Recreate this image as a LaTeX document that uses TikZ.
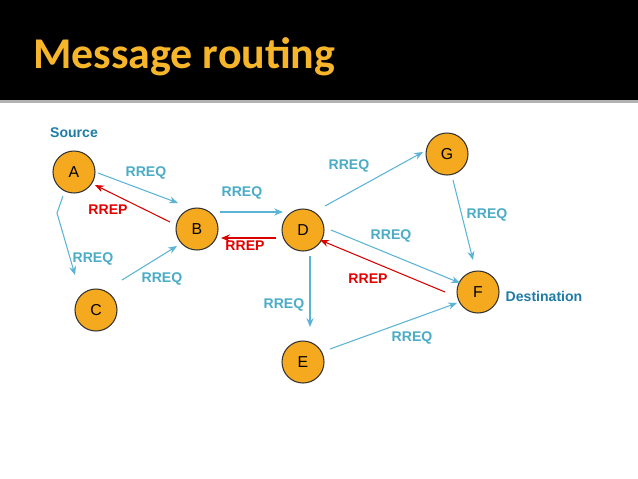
\documentclass[tikz,border=0pt]{standalone}
\usepackage{fontspec}
\setmainfont{Liberation Sans}
\newfontfamily\titlefont{Carlito}
\usetikzlibrary{arrows.meta}
\definecolor{nodeor}{HTML}{F5A91E}
\definecolor{edgeb}{HTML}{5BB4D6}
\definecolor{lblb}{HTML}{4BACC6}
\definecolor{srcb}{HTML}{1E7CA6}
\definecolor{titley}{HTML}{F7B52A}
\tikzset{
  nd/.style={circle,draw=black!80,line width=0.6pt,fill=nodeor,minimum size=42*0.02cm,inner sep=0pt,font=\fontsize{9}{10}\selectfont},
  eb/.style={draw=edgeb,line width=0.6pt,-{Stealth[length=5pt,width=4pt]}},
  er/.style={draw=red!85!black,line width=0.6pt,-{Stealth[length=5pt,width=4pt]}},
  lq/.style={text=lblb,font=\bfseries\fontsize{8}{9}\selectfont,inner sep=0pt},
  lp/.style={text=red!90!black,font=\bfseries\fontsize{8}{9}\selectfont,inner sep=0pt}
}
\begin{document}
\begin{tikzpicture}[x=0.02cm,y=-0.02cm]
\useasboundingbox (0,0) rectangle (638,478);
\fill[white] (0,0) rectangle (638,478);
\fill[black] (0,0) rectangle (638,100);
\fill[gray!60] (0,100) rectangle (638,103);
\node[anchor=west,text=titley,font=\titlefont\bfseries\fontsize{25}{28}\selectfont,inner sep=0pt] (title) at (33,57) {Message routing};
\node[nd] (A) at (74,172) {A};
\node[nd] (B) at (197,229) {B};
\node[nd] (C) at (96,310) {C};
\node[nd] (D) at (303,230) {D};
\node[nd] (E) at (303,362) {E};
\node[nd] (F) at (478,292) {F};
\node[nd] (G) at (447,154) {G};
\coordinate (a1) at (98,173); \coordinate (b1) at (178,203);
\draw[eb] (a1) -- (b1);
\coordinate (a2) at (63,196); \coordinate (a3) at (57,213); \coordinate (c1) at (75,275);
\draw[eb] (a2) -- (a3) -- (c1);
\coordinate (c2) at (122,280); \coordinate (b2) at (177,246);
\draw[eb] (c2) -- (b2);
\coordinate (b3) at (220,212); \coordinate (d1) at (283,212);
\draw[eb] (b3) -- (d1);
\coordinate (d2) at (325,206); \coordinate (g1) at (423,152);
\draw[eb] (d2) -- (g1);
\coordinate (g2) at (453,180); \coordinate (f1) at (473,260);
\draw[eb] (g2) -- (f1);
\coordinate (d3) at (331,230); \coordinate (f2) at (460,283);
\draw[eb] (d3) -- (f2);
\coordinate (d4) at (310,256); \coordinate (e1) at (310,327);
\draw[eb] (d4) -- (e1);
\coordinate (e2) at (330,349); \coordinate (f3) at (457,303);
\draw[eb] (e2) -- (f3);
\coordinate (b4) at (170,222); \coordinate (a4) at (95,185);
\draw[er] (b4) -- (a4);
\coordinate (d5) at (276,238); \coordinate (b5) at (221,238);
\draw[er] (d5) -- (b5);
\coordinate (f4) at (445,292); \coordinate (d6) at (320,240);
\draw[er] (f4) -- (d6);
\node[lq] (l1) at (146,173) {RREQ};
\node[lq] (l2) at (242,193) {RREQ};
\node[lq] (l3) at (349,166) {RREQ};
\node[lq] (l4) at (487,215) {RREQ};
\node[lq] (l5) at (391,236) {RREQ};
\node[lq] (l6) at (93,259) {RREQ};
\node[lq] (l7) at (162,279) {RREQ};
\node[lq] (l8) at (284,305) {RREQ};
\node[lq] (l9) at (412,338) {RREQ};
\node[lp] (p1) at (108,210) {RREP};
\node[lp] (p2) at (245,246) {RREP};
\node[lp] (p3) at (368,279) {RREP};
\node[text=srcb,font=\bfseries\fontsize{8}{9}\selectfont,inner sep=0pt] (src) at (74,133) {Source};
\node[text=srcb,font=\bfseries\fontsize{8}{9}\selectfont,inner sep=0pt] (dst) at (544,296) {Destination};
\end{tikzpicture}
\end{document}
